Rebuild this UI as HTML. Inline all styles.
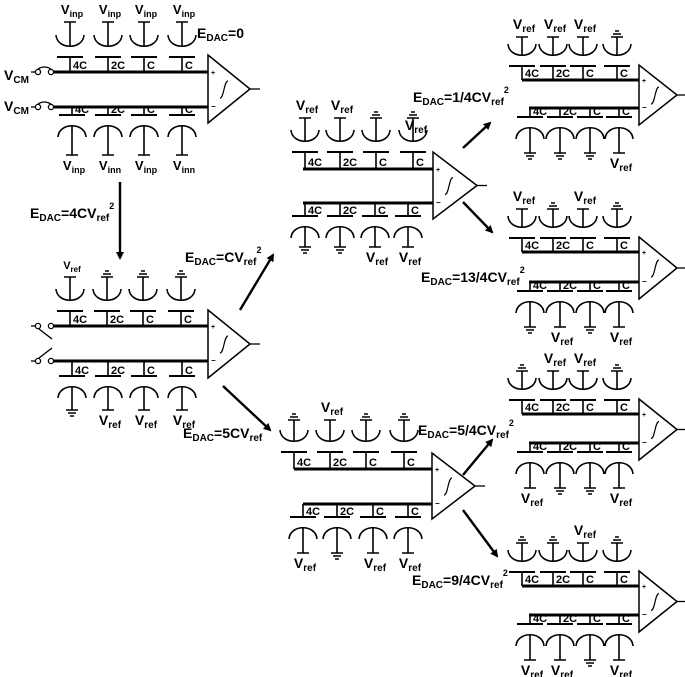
<!DOCTYPE html>
<html><head><meta charset="utf-8"><style>
html,body{margin:0;padding:0;background:#fff;}
svg{display:block;}
text{font-family:"Liberation Sans",Arial,sans-serif;font-weight:bold;fill:#000;}
</style></head><body>
<svg id="s" width="685" height="677" viewBox="0 0 685 677" xmlns="http://www.w3.org/2000/svg">
<defs><marker id="ah" markerWidth="8" markerHeight="8" refX="6" refY="4" orient="auto" markerUnits="userSpaceOnUse"><path d="M0,0 L8,4 L0,8 Z" fill="#000"/></marker></defs>
<g id="g" stroke="#000" fill="none"></g>
<g id="t"></g>
</svg>
<script>
var g=document.getElementById('g'),T=document.getElementById('t'),o='',tx='';
function L(x1,y1,x2,y2,w){o+='<line x1="'+x1+'" y1="'+y1+'" x2="'+x2+'" y2="'+y2+'" stroke-width="'+(w||1.6)+'"/>';}
function P(d,w){o+='<path d="'+d+'" stroke-width="'+(w||1.6)+'"/>';}
function C(x,y,r){o+='<circle cx="'+x+'" cy="'+y+'" r="'+r+'" stroke-width="1.3" fill="#fff"/>';}
function vref(x,y,fs){fs=fs||14;tx+='<text x="'+x+'" y="'+y+'" font-size="'+fs+'" text-anchor="middle">V<tspan font-size="'+Math.round(fs*0.7)+'" dy="3">ref</tspan></text>';}
function vin(x,y,s){tx+='<text x="'+x+'" y="'+y+'" font-size="13" text-anchor="middle">V<tspan font-size="9" dy="3">'+s+'</tspan></text>';}
function gndTop(x,y){L(x-2,y-6,x+2,y-6,1.5);L(x-4,y-3,x+4,y-3,1.5);L(x-6,y,x+6,y,1.5);}
function gndBot(x,y){L(x-6,y,x+6,y,1.5);L(x-4,y+3,x+4,y+3,1.5);L(x-2,y+6,x+2,y+6,1.5);}
function lab(x,y,s){tx+='<text x="'+(x+3)+'" y="'+y+'" font-size="11">'+s+'</text>';}
var names=['4C','2C','C','C'];
function block(b){
 L(b.tl,b.ty,b.tx,b.ty,3);L(b.bl,b.by,b.tx,b.by,3);
 var mid=(b.t1+b.t2)/2;
 o+='<polygon points="'+b.tx+','+b.t1+' '+b.tx+','+b.t2+' '+(b.tx+b.tw)+','+mid+'" stroke-width="1.5" fill="#fff"/>';
 L(b.tx+b.tw,mid,b.tx+b.tw+10,mid,1.3);
 tx+='<text x="'+(b.tx+3)+'" y="'+(b.ty+3)+'" font-size="7" font-weight="normal">+</text>';
 tx+='<text x="'+(b.tx+3)+'" y="'+(b.by+2)+'" font-size="8" font-weight="normal">−</text>';
 P('M'+(b.tx+12)+','+(mid+9)+' C'+(b.tx+16)+','+(mid+9)+' '+(b.tx+16)+','+(mid-8)+' '+(b.tx+20)+','+(mid-8),1.2);
 for(var i=0;i<4;i++){
  var x=b.cx[i],f=b.ty-b.gt;
  L(x,f,x,b.ty,1.6); L(x-13,f,x+13,f,2);
  P('M'+(x-14)+','+(f-22)+' C'+(x-13)+','+(f-7)+' '+(x+13)+','+(f-7)+' '+(x+14)+','+(f-22));
  L(x,b.st,x,f-11,1.6);
  lab(x,b.ty-3,names[i]);
  var k=b.top[i];
  if(k=='g'||k=='gv'){gndTop(x,b.st);} else {L(x-6,b.st,x+6,b.st,1.5);}
  if(k=='v')vref(x+2,b.st-8,b.small&&i==0?11:14);
  if(k=='gv')vref(x+3,b.st+12);
  if(k[0]=='i')vin(x+2,b.st-8,k.slice(1));
  var x2=b.bx[i],f2=b.by+b.gb;
  L(x2,b.by,x2,f2,1.6); L(x2-13,f2,x2+13,f2,2);
  P('M'+(x2-14)+','+(f2+22)+' C'+(x2-13)+','+(f2+7)+' '+(x2+13)+','+(f2+7)+' '+(x2+14)+','+(f2+22));
  L(x2,f2+11,x2,b.sb,1.6);
  lab(x2,b.by+b.gb-2,names[i]);
  var k2=b.bot[i];
  if(k2=='g'){gndBot(x2,b.sb);} else {L(x2-6,b.sb,x2+6,b.sb,1.5);}
  if(k2=='v')vref(x2+2,b.sb+15);
  if(k2[0]=='i')vin(x2+2,b.sb+15,k2.slice(1));
 }
}
function edac(x,y,s,sq){tx+='<text x="'+x+'" y="'+y+'" font-size="14">E<tspan font-size="10" dy="3">DAC</tspan><tspan dy="-3">='+s+'</tspan>'+(sq!==undefined?'<tspan>V</tspan><tspan font-size="10" dy="3">ref</tspan>'+(sq?'<tspan font-size="9" dy="-12">2</tspan>':''):'')+'</text>';}
block({tl:50,bl:50,tx:208,tw:42,ty:72,by:107,t1:55,t2:123,gt:15,gb:8,st:22,sb:155,cx:[70,108,144,182],bx:[72,108,144,182],top:['iinp','iinp','iinp','iinp'],bot:['iinp','iinn','iinp','iinn']});
block({tl:51,bl:51,tx:208,tw:42,ty:326,by:361,t1:310,t2:378,gt:15,gb:15,st:277,sb:410,cx:[70,107,143,181],bx:[72,108,144,182],top:['v','g','g','g'],bot:['g','v','v','v'],small:1});
block({tl:303,bl:303,tx:433,tw:44,ty:169,by:203,t1:152,t2:219,gt:17,gb:13,st:118,sb:247,cx:[305,340,376,413],bx:[305,340,375,408],top:['v','v','g','gv'],bot:['g','g','v','v']});
block({tl:294,bl:303,tx:432,tw:43,ty:469,by:504,t1:453,t2:519,gt:17,gb:13,st:420,sb:553,cx:[294,330,366,404],bx:[303,337,373,408],top:['g','v','g','g'],bot:['v','g','v','v']});
var rc={tl:522,bl:529,tx:639,tw:38,gt:14,gb:9,cx:[522,553,583,617],bx:[530,560,590,619]};
function R(dy,dy2,top,bot){var b=Object.assign({},rc);b.ty=80+dy;b.by=108+dy2;b.t1=65+dy;b.t2=125+dy2;b.st=37+dy;b.sb=153+dy2;b.top=top;b.bot=bot;block(b);}
R(0,0,['v','v','v','g'],['g','g','g','v']);
R(172,174,['v','g','v','g'],['g','v','g','v']);
R(334,335,['g','v','v','g'],['v','g','g','v']);
R(506,507,['g','g','v','g'],['v','v','g','v']);
L(31,72,35,72,1.3);C(38,72,2.6);C(51,72,2.6);P('M38,69 Q44,65 51,69',1.2);
L(31,107,35,107,1.3);C(38,107,2.6);C(51,107,2.6);P('M38,104 Q44,100 51,104',1.2);
tx+='<text x="4" y="80" font-size="14">V<tspan font-size="10" dy="3">CM</tspan></text>';
tx+='<text x="4" y="111" font-size="14">V<tspan font-size="10" dy="3">CM</tspan></text>';
L(31,326,35,326,1.3);C(38,326,2.6);C(51,326,2.6);L(39,329,52,339,1.4);
L(31,361,35,361,1.3);C(38,361,2.6);C(51,361,2.6);L(39,358,52,348,1.4);
function A(x1,y1,x2,y2){o+='<line x1="'+x1+'" y1="'+y1+'" x2="'+x2+'" y2="'+y2+'" stroke-width="2.4" marker-end="url(#ah)"/>';}
A(120,182,120,258);A(240,310,273,255);A(223,386,270,430);
A(463,148,490,123);A(463,202,492,232);
A(463,475,492,440);A(463,510,497,556);
g.innerHTML=o;
edac(197,38,'0');
edac(30,218,'4C',true);
edac(185,262,'C',true);
edac(183,438,'5C',false);
edac(413,102,'1/4C',true);
edac(421,282,'13/4C',true);
edac(418,435,'5/4C',true);
edac(412,585,'9/4C',true);
T.innerHTML=tx;
</script>
</body></html>
